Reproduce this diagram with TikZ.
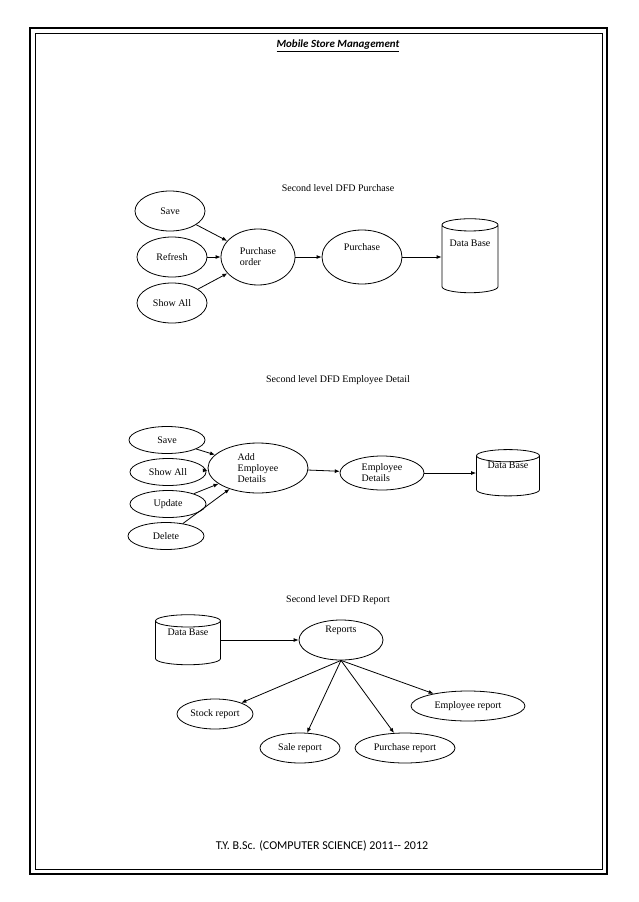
\documentclass[tikz,border=0pt]{standalone}
\usepackage{fontspec}
\setmainfont{Liberation Serif}
\newfontfamily\calib{Carlito}
\usetikzlibrary{shapes.geometric,arrows.meta}
\begin{document}
\begin{tikzpicture}[x=1pt,y=-1pt,
 el/.style={ellipse,draw,thick,inner sep=0pt,font=\fontsize{10}{11}\selectfont,align=left},
 cyl/.style={cylinder,shape border rotate=90,draw,thick,aspect=0.3,inner sep=0pt,font=\fontsize{10}{11}\selectfont,align=center},
 ar/.style={-{Latex[length=5pt,width=4pt]},thick},
 captxt/.style={font=\fontsize{10}{12}\selectfont}]
\useasboundingbox (0,0) rectangle (638,902);
\draw[line width=1.8pt] (30,28) rectangle (607,874);
\draw[line width=0.6pt] (35,33) rectangle (602,869);
\node (title) at (338,46) {\fontsize{11}{13}\selectfont\calib\bfseries\itshape\underline{Mobile Store Management}};
\node (foot) at (322,846) {\fontsize{12}{14}\selectfont\calib T.Y. B.Sc. (COMPUTER SCIENCE) 2011-- 2012};
% section 1
\node[captxt] (c1) at (338,188) {Second level DFD Purchase};
\node[el,minimum width=70,minimum height=40] (s1) at (170,211) {Save};
\node[el,minimum width=70,minimum height=40] (r1) at (172,257) {Refresh};
\node[el,minimum width=70,minimum height=40] (a1) at (172,303) {Show All};
\node[el,minimum width=74,minimum height=56] (po) at (258,257) {Purchase\\order};
\node[el,minimum width=80,minimum height=54] (pu) at (362,257) {Purchase\\[8pt]};
\node[cyl,minimum width=56,minimum height=74] (db1) at (470,259) {Data Base\\[20pt]};
\draw[ar] (s1) -- (po); \draw[ar] (r1) -- (po); \draw[ar] (a1) -- (po);
\draw[ar] (po) -- (pu); \draw[ar] (pu) -- (db1.west |- pu);
% section 2
\node[captxt] (c2) at (338,380) {Second level DFD Employee Detail};
\node[el,minimum width=76,minimum height=27] (s2) at (167,440) {Save};
\node[el,minimum width=76,minimum height=27] (a2) at (168,472) {Show All};
\node[el,minimum width=76,minimum height=27] (u2) at (168,504) {Update};
\node[el,minimum width=76,minimum height=27] (d2) at (166,536) {Delete};
\node[el,minimum width=100,minimum height=50] (ae) at (258,468) {Add\\Employee\\Details};
\node[el,minimum width=84,minimum height=34] (ed) at (382,473) {Employee\\Details};
\node[cyl,minimum width=63,minimum height=44] (db2) at (508,476) {Data Base\\[10pt]};
\draw[ar] (s2) -- (ae); \draw[ar] (a2) -- (ae); \draw[ar] (u2) -- (ae); \draw[ar] (d2) -- (ae);
\draw[ar] (ae) -- (ed); \draw[ar] (ed) -- (db2.west |- ed);
% section 3
\node[captxt] (c3) at (338,600) {Second level DFD Report};
\node[cyl,minimum width=65,minimum height=50] (db3) at (188,643) {Data Base\\[10pt]};
\node[el,minimum width=84,minimum height=40,align=center] (rp) at (341,640) {Reports\\[10pt]};
\node[el,minimum width=76,minimum height=30] (sr) at (215,714) {Stock report};
\node[el,minimum width=80,minimum height=30] (sa) at (300,748) {Sale report};
\node[el,minimum width=100,minimum height=30] (pr) at (405,748) {Purchase report};
\node[el,minimum width=114,minimum height=30] (er) at (468,706) {Employee report};
\draw[ar] (db3.east |- rp) -- (rp);
\draw[ar] (rp.south) -- (sr); \draw[ar] (rp.south) -- (sa);
\draw[ar] (rp.south) -- (pr); \draw[ar] (rp.south) -- (er);
\end{tikzpicture}
\end{document}
